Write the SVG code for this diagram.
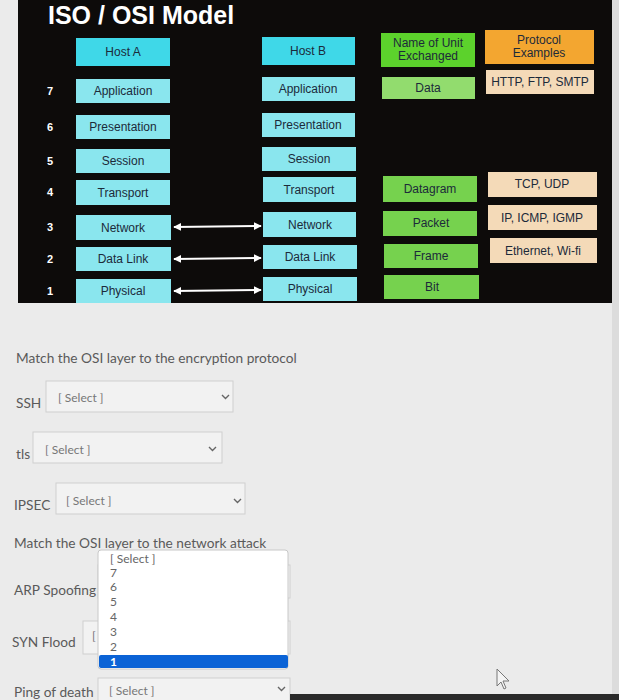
<svg xmlns="http://www.w3.org/2000/svg" width="619" height="700" viewBox="0 0 619 700">
<style>
.bx{stroke:none}
.cyanH{fill:#3fd8e8}
.cyan{fill:#8ae6ee}
.grnH{fill:#5cd22c}
.grnL{fill:#92dc6e}
.grn{fill:#76d24e}
.org{fill:#f3a630}
.bge{fill:#f4dab8}
.t{font-family:"Liberation Sans",Arial,sans-serif;font-size:12px;fill:#1c2a3a;text-anchor:middle}
.num{font-family:"Liberation Sans",Arial,sans-serif;font-size:11px;font-weight:bold;fill:#ffffff;text-anchor:middle}
.q{font-family:Lato,"Liberation Sans",sans-serif;font-size:13.7px;fill:#5a5a5a}
.sel{font-family:Lato,"Liberation Sans",sans-serif;font-size:12px;fill:#777}
.box{fill:#f2f2f2;stroke:#cfcfcf;stroke-width:1}
.chev{fill:none;stroke:#666;stroke-width:1.4}
.opt{font-family:Lato,"Liberation Sans",sans-serif;font-size:12px;fill:#666}
.arr{stroke:#ffffff;stroke-width:2;fill:none;marker-start:url(#ah);marker-end:url(#ah)}
</style>
<defs>
<marker id="ah" viewBox="0 0 10 10" refX="9" refY="5" markerWidth="4" markerHeight="4" orient="auto-start-reverse">
<path d="M0,0 L10,5 L0,10 z" fill="#ffffff"/>
</marker>
</defs>
<rect x="0" y="0" width="619" height="700" fill="#ebebeb"/>
<rect x="612" y="0" width="7" height="700" fill="#dcdcdc"/>
<rect x="18" y="0" width="594" height="303" fill="#0d0b0a"/>
<text x="48" y="24" font-family="Liberation Sans,Arial,sans-serif" font-size="25" font-weight="bold" fill="#ffffff">ISO / OSI Model</text>

<g id="hostA"><rect class="bx cyanH" x="76" y="38" width="94" height="28"/><text class="t" x="123" y="56">Host A</text></g>
<g id="hostB"><rect class="bx cyanH" x="262" y="37" width="93" height="28"/><text class="t" x="308" y="55">Host B</text></g>
<g id="unitHdr"><rect class="bx grnH" x="381" y="33" width="94" height="34"/><text class="t" x="428" y="47" font-size="11">Name of Unit</text><text class="t" x="428" y="60" font-size="11">Exchanged</text></g>
<g id="protoHdr"><rect class="bx org" x="485" y="30" width="109" height="34"/><text class="t" x="539" y="44" font-size="11">Protocol</text><text class="t" x="539" y="57" font-size="11">Examples</text></g>

<g id="n7"><text class="num" x="50" y="95">7</text></g>
<g id="n6"><text class="num" x="50" y="131">6</text></g>
<g id="n5"><text class="num" x="50" y="165">5</text></g>
<g id="n4"><text class="num" x="50" y="196">4</text></g>
<g id="n3"><text class="num" x="50" y="231">3</text></g>
<g id="n2"><text class="num" x="50" y="263">2</text></g>
<g id="n1"><text class="num" x="50" y="295">1</text></g>

<g id="a7"><rect class="bx cyan" x="76" y="79" width="94" height="24"/><text class="t" x="123" y="95">Application</text></g>
<g id="a6"><rect class="bx cyan" x="76" y="115" width="94" height="24"/><text class="t" x="123" y="131">Presentation</text></g>
<g id="a5"><rect class="bx cyan" x="76" y="149" width="94" height="24"/><text class="t" x="123" y="165">Session</text></g>
<g id="a4"><rect class="bx cyan" x="76" y="180" width="94" height="25"/><text class="t" x="123" y="197">Transport</text></g>
<g id="a3"><rect class="bx cyan" x="76" y="215" width="95" height="25"/><text class="t" x="123" y="232">Network</text></g>
<g id="a2"><rect class="bx cyan" x="76" y="247" width="95" height="24"/><text class="t" x="123" y="263">Data Link</text></g>
<g id="a1"><rect class="bx cyan" x="76" y="279" width="95" height="24"/><text class="t" x="123" y="295">Physical</text></g>

<g id="b7"><rect class="bx cyan" x="262" y="77" width="93" height="24"/><text class="t" x="308" y="93">Application</text></g>
<g id="b6"><rect class="bx cyan" x="262" y="113" width="93" height="24"/><text class="t" x="308" y="129">Presentation</text></g>
<g id="b5"><rect class="bx cyan" x="262" y="147" width="94" height="24"/><text class="t" x="309" y="163">Session</text></g>
<g id="b4"><rect class="bx cyan" x="263" y="177" width="93" height="25"/><text class="t" x="309" y="194">Transport</text></g>
<g id="b3"><rect class="bx cyan" x="263" y="212" width="93" height="25"/><text class="t" x="310" y="229">Network</text></g>
<g id="b2"><rect class="bx cyan" x="263" y="245" width="94" height="24"/><text class="t" x="310" y="261">Data Link</text></g>
<g id="b1"><rect class="bx cyan" x="263" y="277" width="94" height="24"/><text class="t" x="310" y="293">Physical</text></g>

<g id="u7"><rect class="bx grnL" x="382" y="77" width="93" height="22"/><text class="t" x="428" y="92">Data</text></g>
<g id="u4"><rect class="bx grn" x="383" y="176" width="94" height="26"/><text class="t" x="430" y="193">Datagram</text></g>
<g id="u3"><rect class="bx grn" x="383" y="211" width="94" height="25"/><text class="t" x="431" y="227">Packet</text></g>
<g id="u2"><rect class="bx grn" x="384" y="244" width="94" height="24"/><text class="t" x="431" y="260">Frame</text></g>
<g id="u1"><rect class="bx grn" x="384" y="275" width="95" height="24"/><text class="t" x="432" y="291">Bit</text></g>

<g id="p7"><rect class="bx bge" x="486" y="70" width="108" height="24"/><text class="t" x="540" y="86">HTTP, FTP, SMTP</text></g>
<g id="p4"><rect class="bx bge" x="488" y="172" width="109" height="25"/><text class="t" x="542" y="188">TCP, UDP</text></g>
<g id="p3"><rect class="bx bge" x="488" y="205" width="109" height="25"/><text class="t" x="542" y="222">IP, ICMP, IGMP</text></g>
<g id="p2"><rect class="bx bge" x="490" y="238" width="107" height="25"/><text class="t" x="543" y="255">Ethernet, Wi-fi</text></g>

<g id="connectors">
<line class="arr" x1="174" y1="227" x2="261" y2="226"/>
<line class="arr" x1="174" y1="259" x2="261" y2="258"/>
<line class="arr" x1="174" y1="291" x2="261" y2="290"/>
</g>

<g id="q1"><text class="q" x="16" y="363">Match the OSI layer to the encryption protocol</text></g>
<g id="ssh"><text class="q" x="16" y="408">SSH</text><rect class="box" x="46" y="381" width="187" height="31"/><text class="sel" x="58" y="402">[ Select ]</text><path class="chev" d="M222,395 l3.5,3.5 l3.5,-3.5"/></g>
<g id="tls"><text class="q" x="16" y="459">tls</text><rect class="box" x="33" y="432" width="189" height="31"/><text class="sel" x="45" y="454">[ Select ]</text><path class="chev" d="M209,447 l3.5,3.5 l3.5,-3.5"/></g>
<g id="ipsec"><text class="q" x="14" y="510">IPSEC</text><rect class="box" x="56" y="483" width="189" height="31"/><text class="sel" x="66" y="505">[ Select ]</text><path class="chev" d="M234,499 l3.5,3.5 l3.5,-3.5"/></g>

<g id="q2"><text class="q" x="14" y="548">Match the OSI layer to the network attack</text></g>
<g id="arp"><text class="q" x="14" y="595">ARP Spoofing</text><rect class="box" x="98" y="565" width="192" height="33"/></g>
<g id="syn"><text class="q" x="12" y="647">SYN Flood</text><rect class="box" x="83" y="621" width="207" height="33"/><text class="sel" x="92" y="640">[</text></g>
<g id="ping"><text class="q" x="14" y="697">Ping of death</text><rect class="box" x="98" y="678" width="192" height="30"/><text class="sel" x="109" y="695">[ Select ]</text><path class="chev" d="M278,687 l3.5,3.5 l3.5,-3.5"/></g>

<g id="dropdown">
<rect x="98" y="550" width="190" height="119" rx="3" fill="#ffffff" stroke="#c8c8c8" stroke-width="1"/>
<text class="opt" x="110" y="563">[ Select ]</text>
<text class="opt" x="110" y="577">7</text>
<text class="opt" x="110" y="591">6</text>
<text class="opt" x="110" y="606">5</text>
<text class="opt" x="110" y="621">4</text>
<text class="opt" x="110" y="636">3</text>
<text class="opt" x="110" y="651">2</text>
<rect x="99" y="655" width="189" height="13" rx="2" fill="#0b63d6"/>
<text x="110" y="666" font-family="Lato,'Liberation Sans',sans-serif" font-size="12" font-weight="bold" fill="#ffffff">1</text>
</g>

<rect x="290" y="694" width="329" height="6" fill="#2a2a2a"/>
<path d="M497,669 L497,686 L501,682 L504,689 L506,688 L503,681 L509,681 Z" fill="#f4f4f4" stroke="#777" stroke-width="1"/>
</svg>
